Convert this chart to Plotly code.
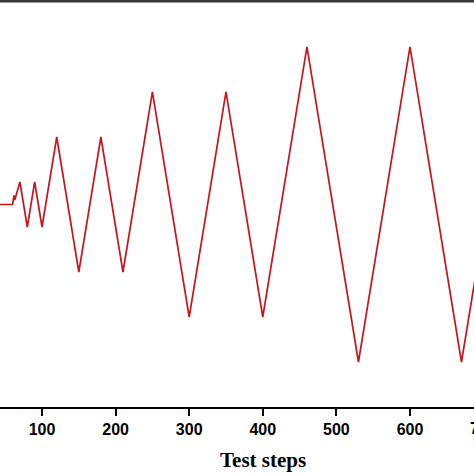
import plotly.graph_objects as go

# Data (test step vs. amplitude level)
steps = [0, 60, 62, 63, 70, 80, 90, 100, 120, 150, 180, 210, 250, 300, 350, 400,
         460, 530, 600, 670, 750]
values = [0, 0, 0.2, 0.1, 0.5, -0.5, 0.5, -0.5, 1.5, -1.5, 1.5, -1.5, 2.5, -2.5,
          2.5, -2.5, 3.5, -3.5, 3.5, -3.5, 4.5]
tick_vals = [100, 200, 300, 400, 500, 600, 700]
tick_text = ["100", "200", "300", "400", "500", "600", "700"]
x_title = "Test steps"

x_range = [42.9, 687]

fig = go.Figure()
fig.add_trace(go.Scatter(x=steps, y=values, mode="lines",
                         line=dict(color="#c8141e", width=1.7),
                         showlegend=False))

tick_font = dict(family="Liberation Sans", size=16, color="black", weight="bold")

# label of the tick just past the right edge (partially visible in the reference)
last_tick = tick_vals[-1]
last_frac = (last_tick - x_range[0]) / (x_range[1] - x_range[0])

fig.update_layout(
    width=474, height=474,
    margin=dict(l=0, r=0, t=0, b=67),
    paper_bgcolor="white", plot_bgcolor="white",
    xaxis=dict(range=x_range, tickvals=tick_vals, ticktext=tick_text,
               ticks="outside", ticklen=7, tickwidth=1.6, tickcolor="black",
               showline=True, linecolor="black", linewidth=2,
               showgrid=False, zeroline=False, tickfont=tick_font),
    yaxis=dict(range=[-4.5, 4.544], visible=False, showgrid=False, zeroline=False),
    shapes=[dict(type="rect", xref="paper", yref="paper", x0=0, x1=1,
                 y0=1 - 2.5 / 407, y1=1, fillcolor="#3a3a3a", line=dict(width=0))],
    annotations=[
        dict(text=x_title, xref="paper", yref="paper", x=263 / 474,
             y=-53 / 407, xanchor="center", yanchor="middle", showarrow=False,
             font=dict(family="Liberation Serif", size=21, color="black", weight="bold")),
        dict(text=tick_text[-1], xref="paper", yref="paper", x=last_frac,
             y=-21 / 407, xanchor="center", yanchor="middle", showarrow=False,
             font=tick_font),
    ],
)

fig.write_html("out.html")
